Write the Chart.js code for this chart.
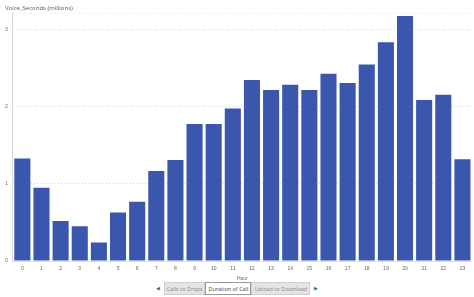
<!DOCTYPE html>
<html>
<head>
<meta charset="utf-8">
<script src="https://cdn.jsdelivr.net/npm/chart.js@4"></script>
<style>
  body { margin: 0; background: #fff; font-family: "Open Sans", sans-serif; }
  #wrap { position: absolute; left: 0; top: 0; width: 474px; height: 281px; }
  #yTitle { position: absolute; left: 5px; top: 4px; font-size: 6px; color: #555; }
  #nav { position: absolute; left: 0; top: 282px; width: 474px; text-align: center; font-size: 6px; color: #666; line-height: 13px; }
  #nav span.arrow { display: inline-block; vertical-align: middle; color: #2a6f8a; font-size: 5px; margin: 0 4px; }
  #nav button {
    font: 5.5px "Open Sans", sans-serif; color: #888; background: #e4e4e4;
    border: 1px solid #cfcfcf; height: 13px; padding: 0 2px; margin: 0; vertical-align: middle;
  }
  #nav button.on { background: #fff; color: #444; border-color: #999; }
</style>
</head>
<body>
<div id="wrap"><canvas id="chart"></canvas></div>
<div id="yTitle">Voice_Seconds (millions)</div>
<div id="nav">
  <span class="arrow">&#9664;</span><button>Calls vs Drops</button><button class="on">Duration of Call</button><button>Upload vs Download</button><span class="arrow">&#9654;</span>
</div>
<script>
// hour of day -> voice seconds (millions)
const hours = ["0","1","2","3","4","5","6","7","8","9","10","11","12","13","14","15","16","17","18","19","20","21","22","23"];
const voiceSeconds = [1.33, 0.95, 0.52, 0.45, 0.24, 0.63, 0.77, 1.17, 1.31, 1.78, 1.78, 1.98,
                      2.35, 2.22, 2.29, 2.22, 2.43, 2.31, 2.55, 2.84, 3.18, 2.09, 2.16, 1.32];
const yTicks = [0, 1, 2, 3];
const yMax = 3.22;

const ctx = document.getElementById("chart").getContext("2d");
new Chart(ctx, {
  type: "bar",
  data: {
    labels: hours,
    datasets: [{
      data: voiceSeconds,
      backgroundColor: "#3b56ad",
      barPercentage: 0.84,
      categoryPercentage: 1.0
    }]
  },
  options: {
    responsive: true,
    maintainAspectRatio: false,
    animation: false,
    layout: { padding: { top: 13, right: 2, left: 0, bottom: 0 } },
    plugins: {
      legend: { display: false },
      tooltip: { enabled: false }
    },
    scales: {
      x: {
        grid: { display: false, drawTicks: false },
        border: { color: "#e0e0e0" },
        ticks: { color: "#666", font: { size: 5, lineHeight: 1 }, padding: 5, maxRotation: 0 },
        title: { display: true, text: "Hour", color: "#666", font: { size: 5, lineHeight: 1 }, padding: { top: 0, bottom: 0 } }
      },
      y: {
        min: 0,
        max: yMax,
        afterBuildTicks: axis => {
          axis.ticks = yTicks.concat([yMax]).map(v => ({ value: v }));
        },
        grid: {
          color: c => c.tick && c.tick.value > 3 ? "#e6e6e6" : "#d6d6d6",
          lineWidth: 1,
          drawTicks: false
        },
        border: { color: "#d8d8d8", dash: [1, 2] },
        ticks: {
          color: "#666",
          font: { size: 5 },
          padding: 5,
          callback: v => (yTicks.includes(v) ? v : "")
        }
      }
    }
  }
});
</script>
</body>
</html>
